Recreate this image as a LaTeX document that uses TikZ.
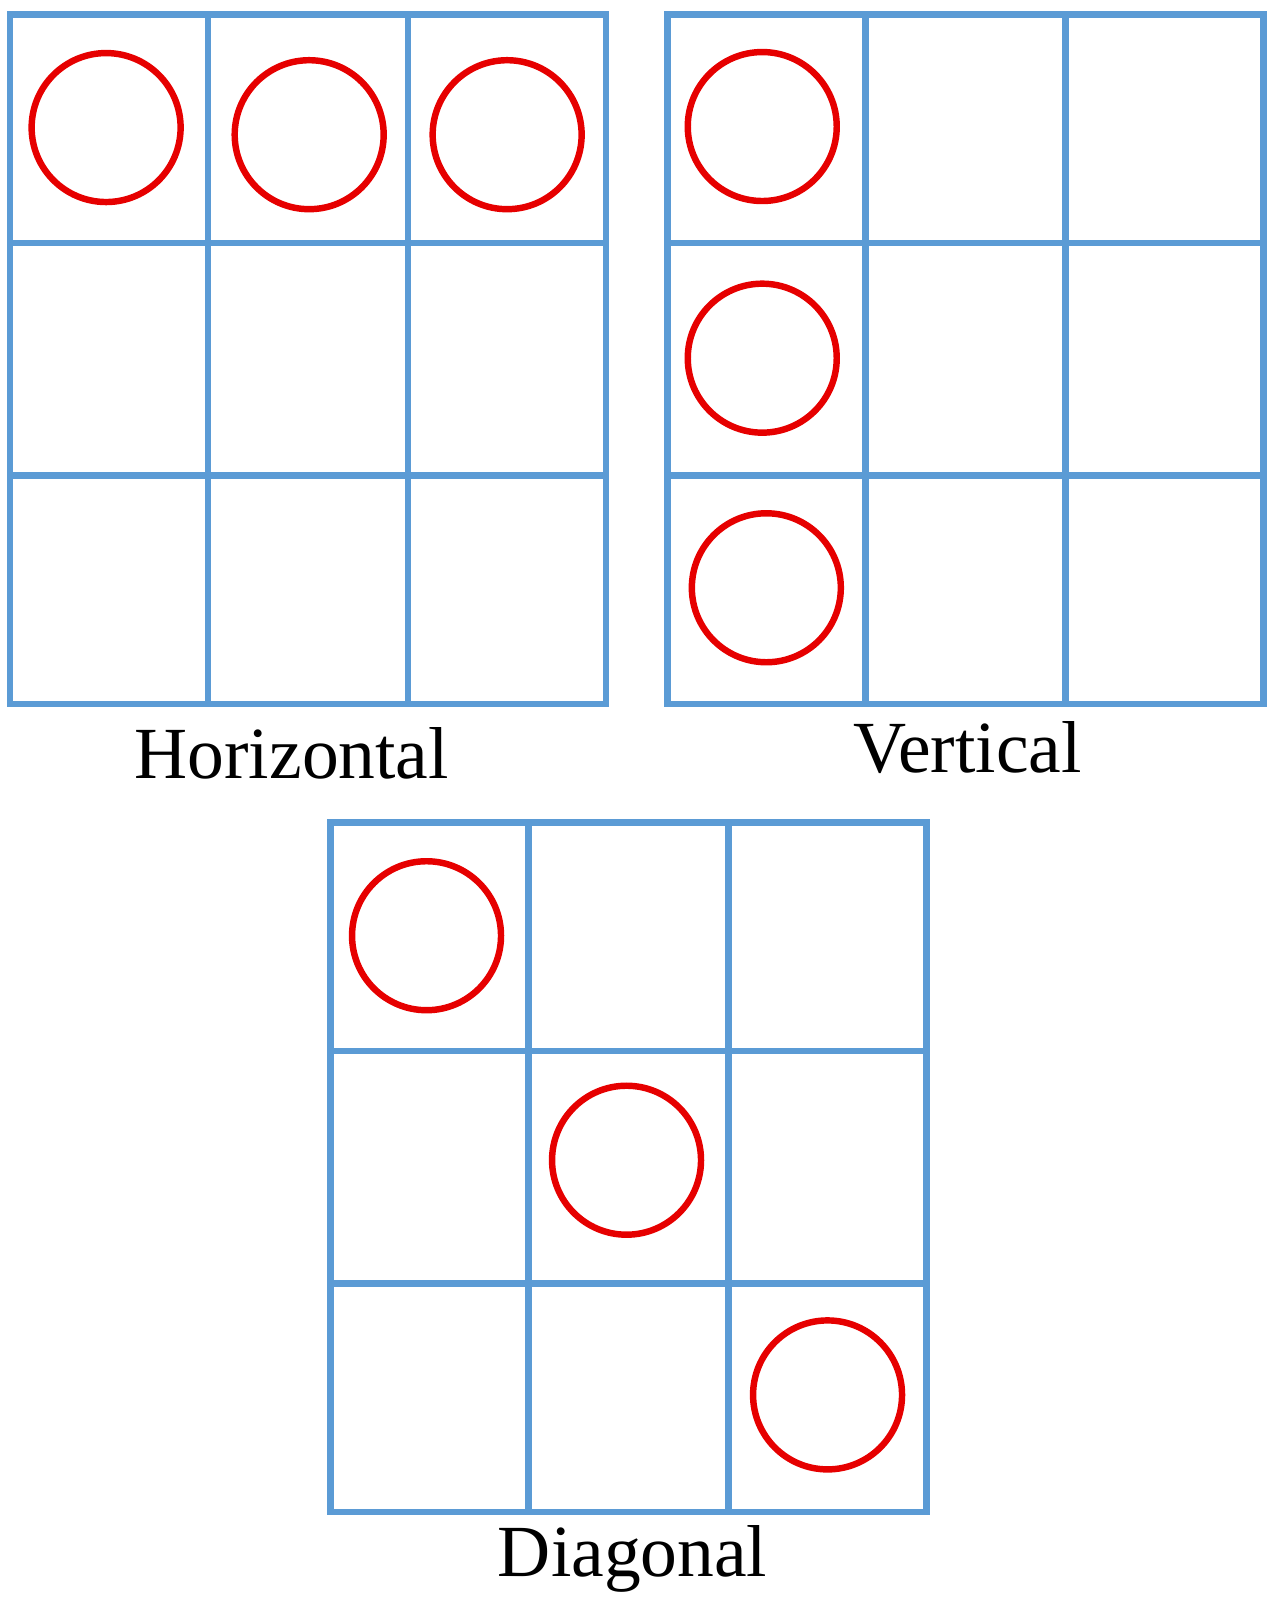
\documentclass[tikz,border=0pt]{standalone}
\usepackage{fontspec}
\setmainfont{Liberation Serif}
\begin{document}
\begin{tikzpicture}[x=0.02cm,y=-0.02cm,
  gridline/.style={draw={rgb,255:red,91;green,155;blue,213},line width=3.6pt},
  ring/.style={draw={rgb,255:red,230;green,0;blue,0},line width=3.6pt},
  lbl/.style={font=\fontsize{41}{48}\selectfont,inner sep=0pt}]
\useasboundingbox (0,0) rectangle (1250,1568);
\foreach \X/\Y/\n in {10/14/a,654/14/b,324/806/c}{
  \begin{scope}[shift={(\X,\Y)}]
   \draw[gridline] (0,0) rectangle (584,676);
   \draw[gridline] (194,0)--(194,676) (390,0)--(390,676) (0,224)--(584,224) (0,452)--(584,452);
  \end{scope}}
\foreach \cx/\cy in {104/125,303/132,497/132,747/124,747/351,751/576,418/917,614/1137,811/1367}
  \draw[ring] (\cx,\cy) circle (73);
\node[lbl] (h) at (286,738) {Horizontal};
\node[lbl] (v) at (948,733) {Vertical};
\node[lbl] (d) at (620,1528) {Diagonal};
\end{tikzpicture}
\end{document}
